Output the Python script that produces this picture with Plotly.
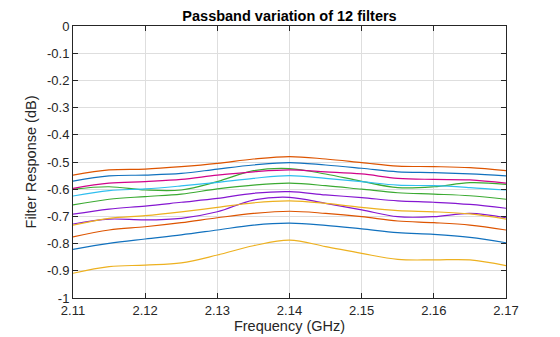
import plotly.graph_objects as go

freq = [2.11, 2.115, 2.12, 2.125, 2.13, 2.135, 2.14, 2.145, 2.15, 2.155, 2.16, 2.165, 2.17]

filter_01 = [-0.570, -0.551, -0.548, -0.542, -0.526, -0.511, -0.502, -0.511, -0.523, -0.536, -0.539, -0.544, -0.551]
filter_02 = [-0.775, -0.750, -0.738, -0.723, -0.705, -0.689, -0.681, -0.689, -0.701, -0.717, -0.723, -0.732, -0.750]
filter_03 = [-0.909, -0.885, -0.879, -0.871, -0.842, -0.808, -0.787, -0.811, -0.836, -0.858, -0.860, -0.860, -0.881]
filter_04 = [-0.728, -0.710, -0.713, -0.707, -0.683, -0.640, -0.630, -0.652, -0.676, -0.701, -0.701, -0.689, -0.705]
filter_05 = [-0.600, -0.591, -0.603, -0.603, -0.572, -0.532, -0.524, -0.544, -0.571, -0.594, -0.591, -0.576, -0.582]
filter_06 = [-0.625, -0.605, -0.599, -0.588, -0.575, -0.560, -0.550, -0.560, -0.572, -0.585, -0.587, -0.594, -0.603]
filter_07 = [-0.597, -0.578, -0.572, -0.564, -0.548, -0.536, -0.529, -0.536, -0.544, -0.560, -0.564, -0.566, -0.578]
filter_08 = [-0.821, -0.799, -0.783, -0.768, -0.750, -0.732, -0.725, -0.733, -0.746, -0.760, -0.766, -0.777, -0.797]
filter_09 = [-0.548, -0.529, -0.526, -0.517, -0.505, -0.489, -0.480, -0.489, -0.502, -0.515, -0.517, -0.521, -0.532]
filter_10 = [-0.732, -0.707, -0.697, -0.683, -0.667, -0.650, -0.643, -0.652, -0.667, -0.679, -0.683, -0.691, -0.710]
filter_11 = [-0.692, -0.673, -0.662, -0.648, -0.634, -0.615, -0.609, -0.621, -0.631, -0.643, -0.648, -0.656, -0.670]
filter_12 = [-0.658, -0.637, -0.627, -0.618, -0.599, -0.585, -0.578, -0.587, -0.600, -0.613, -0.618, -0.624, -0.637]

series = [filter_01, filter_02, filter_03, filter_04, filter_05, filter_06,
          filter_07, filter_08, filter_09, filter_10, filter_11, filter_12]

colors = ["#1171BE", "#DD5400", "#EDB120", "#8516D1", "#3BAA32", "#2FBEEF", "#D1048B"]

x_tickvals = [2.11, 2.12, 2.13, 2.14, 2.15, 2.16, 2.17]
x_ticktext = ["2.11", "2.12", "2.13", "2.14", "2.15", "2.16", "2.17"]
y_tickvals = [0, -0.1, -0.2, -0.3, -0.4, -0.5, -0.6, -0.7, -0.8, -0.9, -1]
y_ticktext = ["0", "-0.1", "-0.2", "-0.3", "-0.4", "-0.5", "-0.6", "-0.7", "-0.8", "-0.9", "-1"]

fig = go.Figure()
for i, s in enumerate(series):
    fig.add_trace(go.Scatter(
        x=freq, y=s, mode="lines",
        line=dict(color=colors[i % len(colors)], width=1.2, shape="spline", smoothing=1.0),
        showlegend=False, hoverinfo="skip"))

font_family = "Liberation Sans, Arial, sans-serif"
axis_color = "#262626"
grid_color = "#dedede"

fig.update_layout(
    width=560, height=337,
    margin=dict(l=73, r=54, t=26, b=39),
    paper_bgcolor="white", plot_bgcolor="white",
    font=dict(family=font_family, size=13, color=axis_color),
    title=dict(text="<b>Passband variation of 12 filters</b>", x=0.517, xanchor="center",
               y=1 - 16/337, yanchor="middle",
               font=dict(family=font_family, size=14.5, color="black")),
)
fig.update_xaxes(
    range=[2.11, 2.17], tickvals=x_tickvals, ticktext=x_ticktext,
    showline=True, linecolor=axis_color, linewidth=1, mirror="ticks",
    ticks="inside", ticklen=5, tickcolor=axis_color,
    showgrid=True, gridcolor=grid_color, gridwidth=1, zeroline=False,
    tickfont=dict(size=13, color=axis_color),
    title=dict(text="Frequency (GHz)", font=dict(size=14.5, color=axis_color), standoff=4),
    automargin=False,
)
fig.update_yaxes(
    range=[-1, 0], tickvals=y_tickvals, ticktext=y_ticktext,
    showline=True, linecolor=axis_color, linewidth=1, mirror="ticks",
    ticks="inside", ticklen=5, tickcolor=axis_color,
    showgrid=True, gridcolor=grid_color, gridwidth=1, zeroline=False,
    tickfont=dict(size=13, color=axis_color),
    title=dict(text="Filter Response (dB)", font=dict(size=14.5, color=axis_color), standoff=6),
    automargin=False,
)

fig.write_html("out.html")
